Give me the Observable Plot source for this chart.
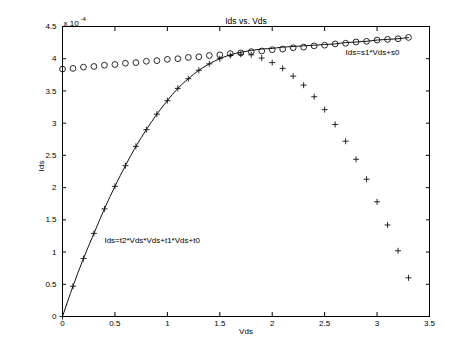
<!DOCTYPE html>
<html>
<head>
<meta charset="utf-8">
<script src="https://cdn.jsdelivr.net/npm/d3@7"></script>
<script src="https://cdn.jsdelivr.net/npm/@observablehq/plot@0.6"></script>
<style>
  html, body { margin: 0; padding: 0; background: #fff; }
  svg { display: block; }
</style>
</head>
<body>
<div id="chart"></div>
<script>
// Vds sample points (V)
const vds = [0,0.1,0.2,0.3,0.4,0.5,0.6,0.7,0.8,0.9,1.0,1.1,1.2,1.3,1.4,1.5,1.6,1.7,1.8,1.9,2.0,2.1,2.2,2.3,2.4,2.5,2.6,2.7,2.8,2.9,3.0,3.1,3.2,3.3];
// Quadratic fit (plus markers), units of 1e-4 A
const idsQuad = [0,0.47,0.90,1.29,1.67,2.02,2.34,2.64,2.90,3.14,3.35,3.54,3.69,3.82,3.92,4.00,4.05,4.07,4.06,4.01,3.94,3.85,3.73,3.59,3.41,3.21,2.98,2.72,2.44,2.13,1.78,1.42,1.02,0.60];
// Linear fit (circle markers), units of 1e-4 A
const idsLin = [3.84,3.85,3.87,3.88,3.90,3.91,3.93,3.94,3.96,3.97,3.99,4.00,4.02,4.03,4.05,4.06,4.08,4.09,4.11,4.12,4.14,4.15,4.17,4.18,4.20,4.21,4.23,4.24,4.26,4.27,4.29,4.30,4.31,4.33];
// Measured curve (solid line), units of 1e-4 A
const idsMeas = [0,0.47,0.90,1.29,1.67,2.02,2.34,2.64,2.90,3.14,3.35,3.54,3.69,3.82,3.92,4.00,4.06,4.10,4.13,4.15,4.16,4.18,4.19,4.20,4.21,4.22,4.23,4.25,4.26,4.27,4.29,4.30,4.31,4.33];

const xTicks = [0,0.5,1,1.5,2,2.5,3,3.5];
const yTicks = [0,0.5,1,1.5,2,2.5,3,3.5,4,4.5];

const annotText = ["Ids=s1*Vds+s0", "Ids=t2*Vds*Vds+t1*Vds+t0"];
const annotVds = [2.7, 0.4];
const annotIds = [4.1, 1.18];

const titleText = "Ids vs. Vds";
const xLabel = "Vds";
const yLabel = "Ids";
const expBase = "x 10";
const expPow = "-4";

const rows = vds.map((v, i) => ({vds: v, quad: idsQuad[i], lin: idsLin[i], meas: idsMeas[i]}));
const annots = annotText.map((t, i) => ({t, x: annotVds[i], y: annotIds[i]}));

const plusSymbol = {
  draw(ctx, size) {
    const h = Math.sqrt(size / Math.PI);
    ctx.moveTo(-h, 0); ctx.lineTo(h, 0);
    ctx.moveTo(0, -h); ctx.lineTo(0, h);
  }
};

const fmt = d => String(d);
const FONT = "'Liberation Sans', Arial, Helvetica, sans-serif";

const chart = Plot.plot({
  width: 474,
  height: 356,
  marginLeft: 62,
  marginRight: 45,
  marginTop: 26,
  marginBottom: 40,
  style: {fontFamily: FONT, fontSize: "8px", color: "#000", background: "#fff"},
  x: {domain: [0, 3.5], axis: null},
  y: {domain: [0, 4.5], axis: null},
  marks: [
    Plot.line(rows, {x: "vds", y: "meas", stroke: "#111", strokeWidth: 1, curve: "monotone-x"}),
    Plot.dot(rows, {x: "vds", y: "lin", r: 2.9, symbol: "circle", stroke: "#111", fill: "none", strokeWidth: 0.9}),
    Plot.dot(rows, {x: "vds", y: "quad", r: 3, symbol: plusSymbol, stroke: "#111", fill: "none", strokeWidth: 0.9}),
    Plot.text(annots, {x: "x", y: "y", text: "t", textAnchor: "start", fill: "#000", fontSize: 8}),
    // inward ticks on all four sides
    Plot.axisX(xTicks, {anchor: "bottom", tickSize: -4, fill: "none", stroke: "#000", label: null}),
    Plot.axisX(xTicks, {anchor: "top", tickSize: -4, fill: "none", stroke: "#000", label: null}),
    Plot.axisY(yTicks, {anchor: "left", tickSize: -4, fill: "none", stroke: "#000", label: null}),
    Plot.axisY(yTicks, {anchor: "right", tickSize: -4, fill: "none", stroke: "#000", label: null}),
    // tick labels
    Plot.axisX(xTicks, {anchor: "bottom", tickSize: 0, tickPadding: 4, tickFormat: fmt, fill: "#000", label: null, fontSize: 8}),
    Plot.axisY(yTicks, {anchor: "left", tickSize: 0, tickPadding: 6, tickFormat: fmt, fill: "#000", label: null, fontSize: 8}),
    Plot.frame({stroke: "#000", strokeWidth: 1}),
    // titles and labels
    Plot.text([titleText], {frameAnchor: "top", dy: -9, fill: "#000", fontSize: 8.5}),
    Plot.text([xLabel], {frameAnchor: "bottom", dy: 17, fill: "#000", fontSize: 8}),
    Plot.text([yLabel], {frameAnchor: "left", dx: -21, rotate: -90, fill: "#000", fontSize: 8}),
    Plot.text([expBase], {frameAnchor: "top-left", dx: 1, dy: -6, textAnchor: "start", fill: "#000", fontSize: 8}),
    Plot.text([expPow], {frameAnchor: "top-left", dx: 18, dy: -10, textAnchor: "start", fill: "#000", fontSize: 6})
  ]
});

document.getElementById("chart").appendChild(chart);
</script>
</body>
</html>
